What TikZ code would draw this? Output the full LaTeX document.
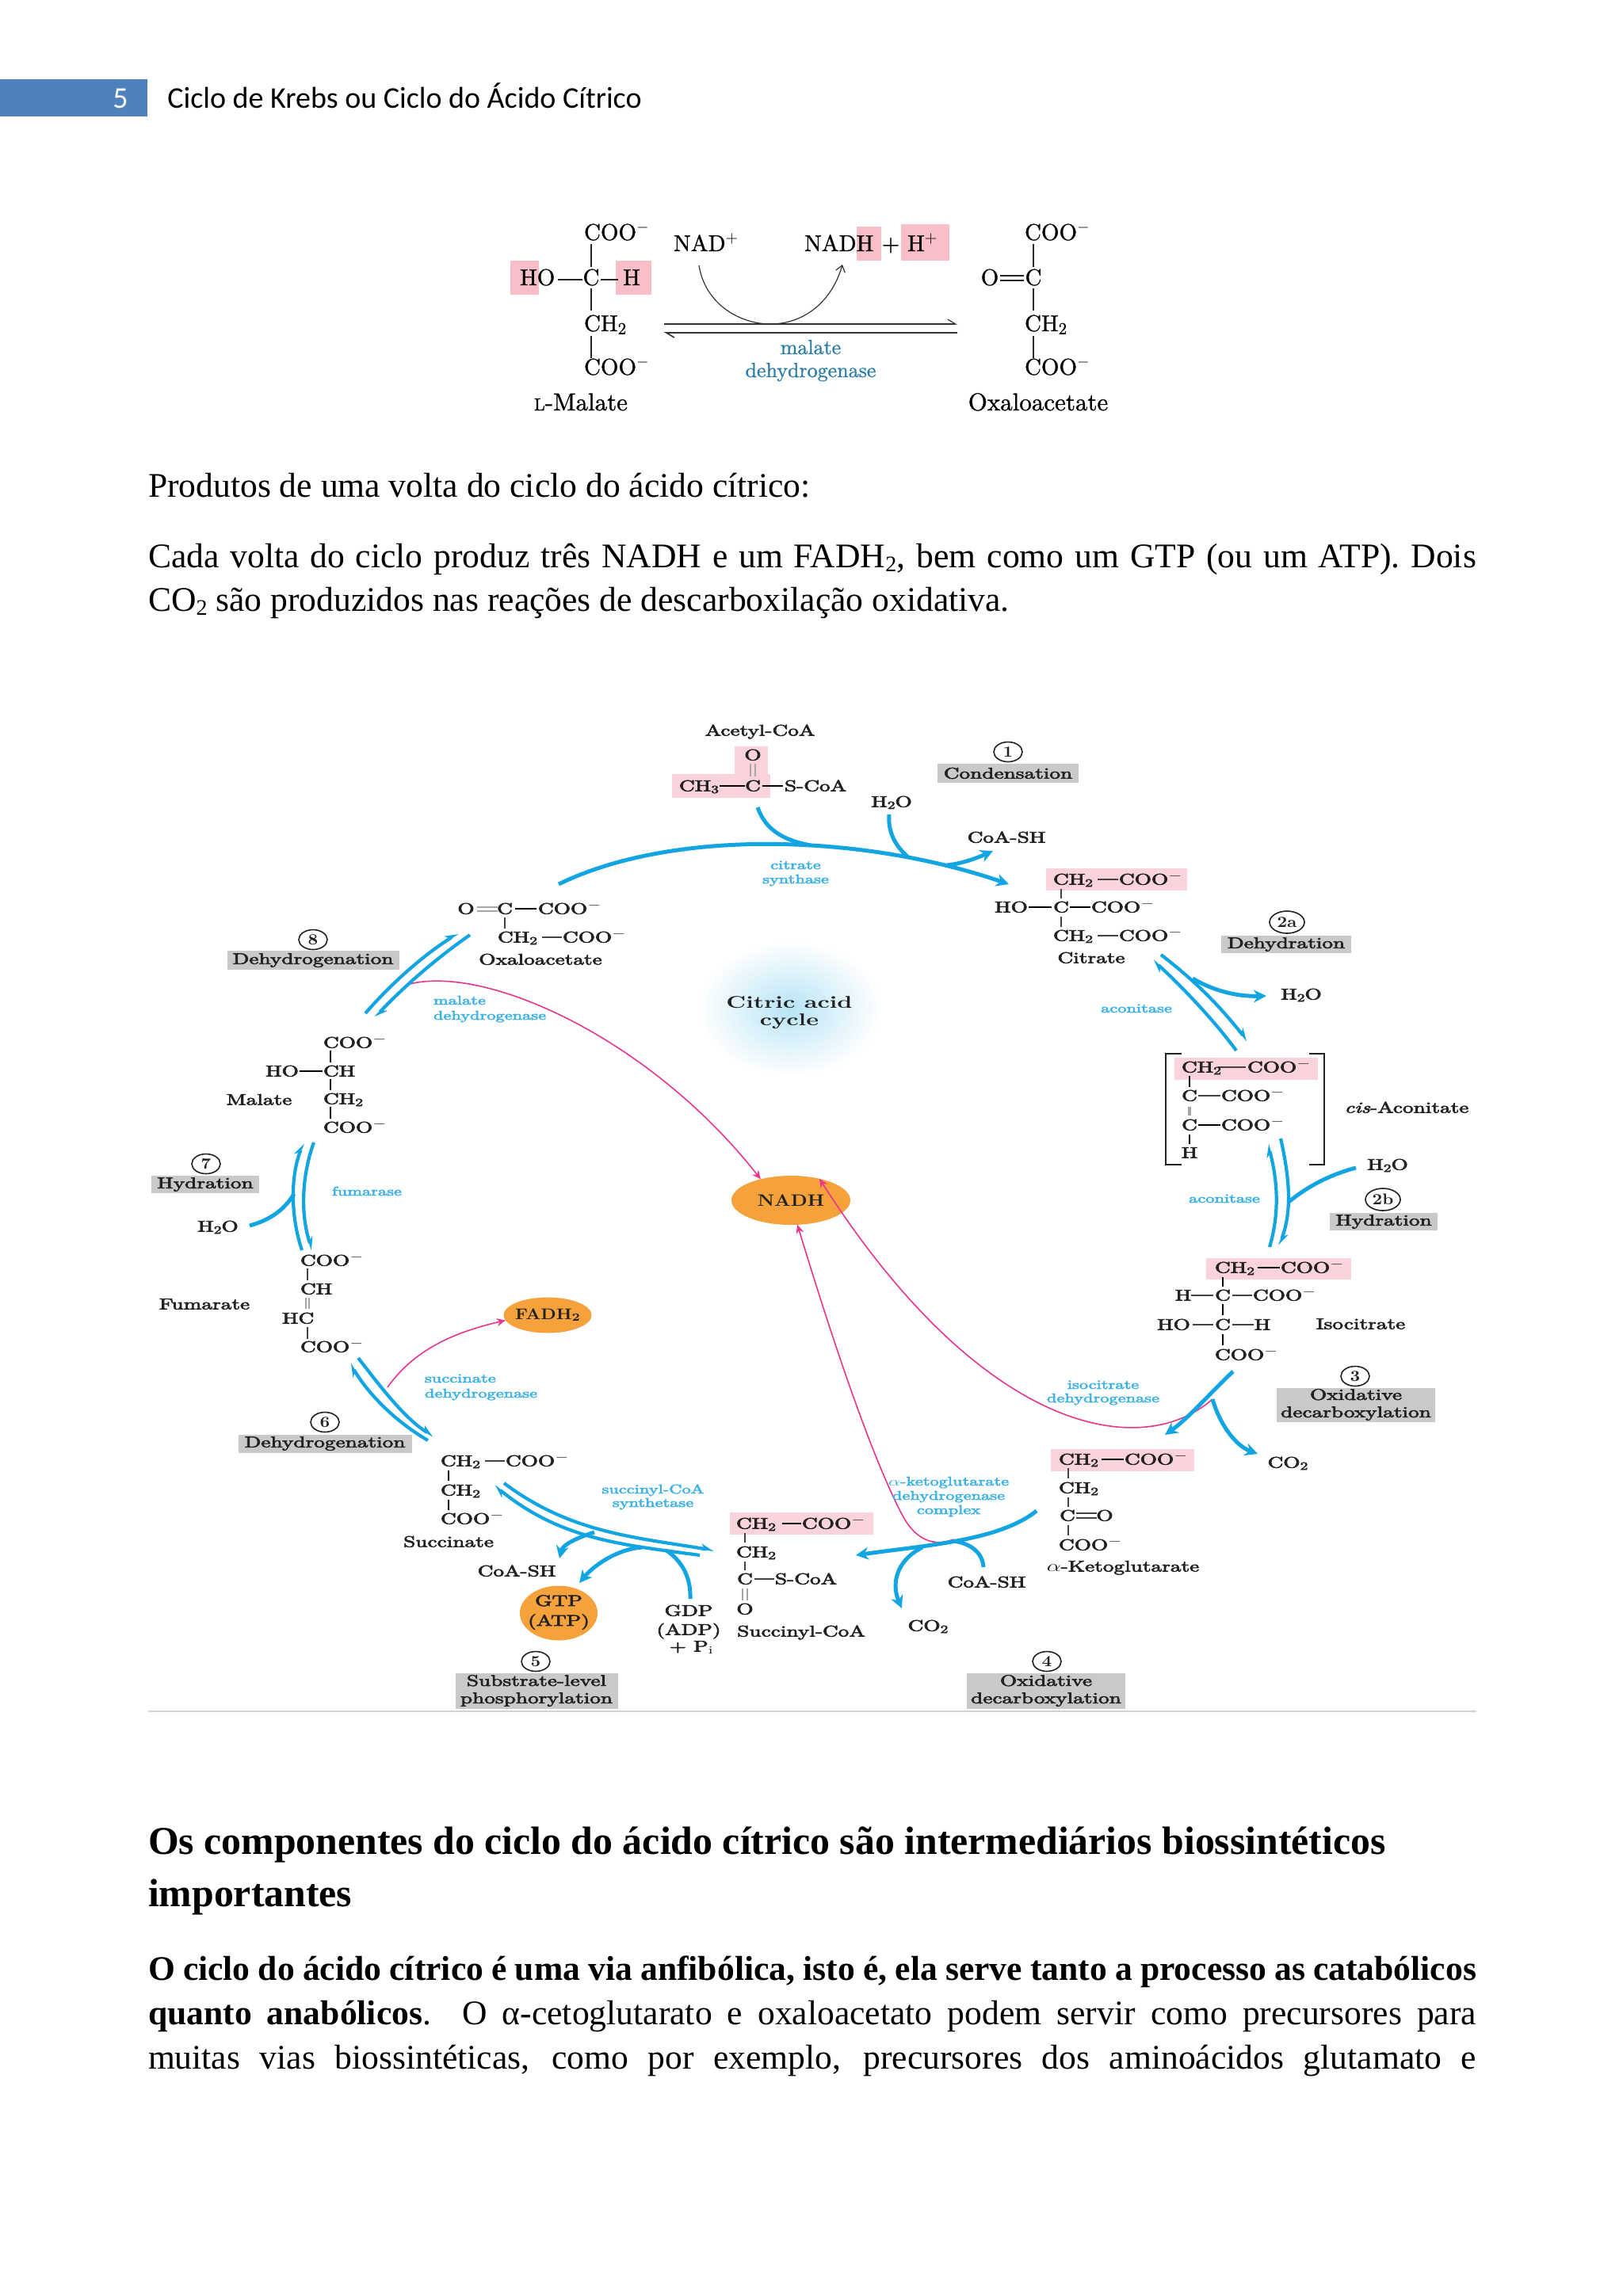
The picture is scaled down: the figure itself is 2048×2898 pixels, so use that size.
\documentclass[tikz,border=0pt]{standalone}
\usepackage{fontspec}
\usepackage{graphicx}
\usetikzlibrary{arrows.meta,shapes.geometric}
\newfontfamily\bodyfont{Liberation Serif}
\newfontfamily\headfont{Carlito}
\newfontfamily\chemfont{lmroman10-regular}[Extension=.otf,ItalicFont=lmroman10-italic,FakeBold=3]
\newfontfamily\topfont{lmroman10-regular}[Extension=.otf,FakeBold=1]
\definecolor{flow}{HTML}{12A5E2}
\definecolor{enz}{HTML}{3DB2E8}
\definecolor{topenz}{HTML}{2A7CA8}
\definecolor{pinkbg}{HTML}{FBD3DC}
\definecolor{pinktop}{HTML}{F9BFC8}
\definecolor{grayb}{HTML}{C8C9C9}
\definecolor{orangeb}{HTML}{F6A23C}
\definecolor{magent}{HTML}{E6378C}
\definecolor{ink}{HTML}{222222}
\definecolor{headblue}{HTML}{4F81BD}
\newcommand\St[1]{\scalebox{1.4}[1]{#1}}
\newcommand\Sb[1]{\scalebox{1.13}[1]{#1}}
\newcommand\two{\raisebox{-0.3ex}{\fontsize{7}{8}\selectfont 2}}
\newcommand\thr{\raisebox{-0.3ex}{\fontsize{7}{8}\selectfont 3}}
\newcommand\ttwo{\raisebox{-0.3ex}{\fontsize{10.5}{11}\selectfont 2}}
\newcommand\bsub{\raisebox{-0.25ex}{\fontsize{14}{14}\selectfont 2}}
\newcommand\cw[4]{\node[chem,anchor=base west] (#1) at ({#2},{#3+6.5}) {\St{#4}};}
\newcommand\cc[4]{\node[chem,anchor=base] (#1) at ({#2},{#3+6.5}) {\St{#4}};}
\newcommand\en[4]{\node[enzy,anchor=base] (#1) at ({#2},{#3+5}) {\St{#4}};}
\newcommand\enw[4]{\node[enzy,anchor=base west] (#1) at ({#2},{#3+5}) {\St{#4}};}
\newcommand\tw[4]{\node[topchem,anchor=base west] (#1) at ({#2},{#3+10}) {#4};}
\newcommand\tc[4]{\node[topchem,anchor=base] (#1) at ({#2},{#3+10}) {#4};}
\newcommand\lbl[6]{\node[labbox,minimum width=#4*0.5pt,minimum height=#5*0.5pt] (#1) at (#2,#3) {#6};}
\newcommand\num[6]{\node[stepring,minimum width=#4*0.5pt,minimum height=#5*0.5pt] (#1) at (#2,#3) {\Sb{#6}};}
\newcommand\bline[4]{\node[bodytxt,anchor=base west] (#1) at (#2,#3) {\makebox[838pt][s]{#4}};}
\newcommand\pb[4]{\fill[pinkbg] (#1,#2) rectangle (#3,#4);}
\newcommand\pt[4]{\fill[pinktop] (#1,#2) rectangle (#3,#4);}
\tikzset{
  chem/.style={inner sep=0pt,outer sep=0pt,text=ink,font=\chemfont\fontsize{9.75}{11}\selectfont},
  enzy/.style={inner sep=0pt,outer sep=0pt,text=enz,font=\chemfont\fontsize{8}{9}\selectfont},
  topchem/.style={inner sep=0pt,outer sep=0pt,text=black,font=\topfont\fontsize{14.5}{16}\selectfont},
  toplab/.style={inner sep=0pt,outer sep=0pt,text=black,anchor=base,font=\topfont\fontsize{15.5}{17}\selectfont},
  topen/.style={inner sep=0pt,outer sep=0pt,text=topenz,anchor=base,font=\topfont\fontsize{13}{15}\selectfont},
  labbox/.style={fill=grayb,inner sep=0pt,outer sep=0pt,text=ink,align=center,font=\chemfont\fontsize{9.75}{11}\selectfont},
  stepring/.style={ellipse,draw=ink,line width=0.8pt,fill=white,inner sep=0pt,outer sep=0pt,text=ink,font=\bfseries\fontsize{9.75}{11}\selectfont},
  oval/.style={ellipse,fill=orangeb,inner sep=0pt,outer sep=0pt},
  ovaltxt/.style={inner sep=0pt,outer sep=0pt,text=ink,anchor=base},
  bodytxt/.style={inner sep=0pt,outer sep=0pt,text=black,font=\bodyfont\fontsize{21.8}{26}\selectfont},
  headtxt/.style={inner sep=0pt,outer sep=0pt,text=black,anchor=base west,font=\bodyfont\bfseries\fontsize{24.9}{28}\selectfont},
  bond/.style={draw=ink!85,line width=0.7pt},
  tbond/.style={draw=black,line width=1.4pt},
  gbond/.style={draw=black!35,line width=0.7pt},
  topbond/.style={draw=black!85,line width=0.6pt},
  fw/.style={draw=flow,line width=2.5pt},
  fwa/.style={fw,-{Stealth[length=8pt,width=8pt]}},
  dbl/.style={draw=flow,line width=2.1pt,-{Stealth[harpoon,length=7pt,width=6pt]}},
  nd/.style={draw=magent,line width=0.8pt,-{Stealth[length=5.5pt,width=5pt]}},
}
\begin{document}
\begin{tikzpicture}[x=0.5pt,y=-0.5pt]
\useasboundingbox (0,0) rectangle (2048,2898);
\fill[white] (0,0) rectangle (2048,2898);

% header
\node[fill=headblue,minimum width=93pt,minimum height=23.5pt,inner sep=0pt,outer sep=0pt,anchor=north west] (headbar) at (0,100) {};
\node[inner sep=0pt,text=white,anchor=base,font=\headfont\fontsize{19}{22}\selectfont] (pagenum) at (152,136) {5};
\node[inner sep=0pt,text=black,anchor=base west,font=\headfont\fontsize{19}{22}\selectfont] (headtitle) at (211,136) {Ciclo de Krebs ou Ciclo do Ácido Cítrico};

% top reaction
\pt{644}{329}{680}{372}
\pt{777}{329}{822}{372}
\pt{1081}{286}{1112}{329}
\pt{1137}{283}{1198}{329}
\tw{tcoo1}{737}{293}{COO$^-$}
\tw{tho}{656}{350}{HO}
\tc{tc1}{746}{350}{C}
\tc{th1}{797}{350}{H}
\tw{tch1}{737}{408}{CH\ttwo}
\tw{tcoo2}{737}{463}{COO$^-$}
\node[toplab] (lmal) at (733,518) {{\fontsize{11}{12}\selectfont L}-Malate};
\tw{tnad}{850}{307}{NAD$^+$}
\tw{tnadh}{1015}{307}{NADH}
\tc{tplus}{1124}{307}{+}
\tw{thp}{1145}{307}{H$^+$}
\tw{tcoo3}{1293}{293}{COO$^-$}
\tc{to}{1249}{350}{O}
\tc{tc2}{1304}{350}{C}
\tw{tch2}{1293}{408}{CH\ttwo}
\tw{tcoo4}{1293}{463}{COO$^-$}
\node[toplab] (oxatop) at (1310,518) {Oxaloacetate};
\node[topen] (tmal) at (1023,447) {malate};
\node[topen] (tdeh) at (1023,476) {dehydrogenase};
\draw[topbond] (746,308) -- (746,337);
\draw[topbond] (746,364) -- (746,392);
\draw[topbond] (746,424) -- (746,452);
\draw[topbond] (704,353) -- (735,353);
\draw[topbond] (758,353) -- (780,353);
\draw[topbond] (1304,308) -- (1304,337);
\draw[topbond] (1304,364) -- (1304,392);
\draw[topbond] (1304,424) -- (1304,452);
\draw[topbond] (1262,348) -- (1292,348);
\draw[topbond] (1262,354) -- (1292,354);
\coordinate (rf1) at (838,409); \coordinate (rf2) at (1208,409);
\coordinate (rb1) at (1208,420); \coordinate (rb2) at (838,420);
\draw[draw=black!80,line width=0.6pt,-{Straight Barb[harpoon,length=5pt,width=6pt]}] (rf1) -- (rf2);
\draw[draw=black!80,line width=0.8pt,-{Straight Barb[harpoon,length=5pt,width=6pt]}] (rb1) -- (rb2);
\coordinate (rc1) at (882,335); \coordinate (rcm) at (972,409); \coordinate (rc2) at (1063,334);
\draw[draw=black!80,line width=0.6pt,-{Straight Barb[length=4pt,width=6pt]}] (rc1) .. controls (890,385) and (935,409) .. (rcm) .. controls (1015,409) and (1050,380) .. (rc2);

% body text
\node[bodytxt,anchor=base west] (p1) at (187,627) {Produtos de uma volta do ciclo do ácido cítrico:};
\bline{p2}{187}{716}{Cada volta do ciclo produz três NADH e um FADH\bsub, bem como um GTP (ou um ATP). Dois}
\node[bodytxt,anchor=base west] (p3) at (187,771) {CO\bsub{} são produzidos nas reações de descarboxilação oxidativa.};

% glow
\shade[inner color=flow!30,outer color=white] (997,1273) ellipse [x radius=115,y radius=85];

% pink panels
\pb{927}{942}{969}{977}
\pb{848}{977}{972}{1007}
\pb{1320}{1096}{1498}{1124}
\pb{1482}{1335}{1663}{1363}
\pb{1522}{1588}{1705}{1615}
\pb{1326}{1829}{1507}{1857}
\pb{921}{1909}{1102}{1937}

% ovals and pink arrows
\node[oval,minimum width=75pt,minimum height=31pt] (nadh) at (998,1515) {};
\node[ovaltxt,font=\bfseries\fontsize{10.5}{12}\selectfont] (nadht) at (998,1522) {\Sb{NADH}};
\node[oval,minimum width=55.5pt,minimum height=22.5pt] (fadh) at (691,1660) {};
\node[ovaltxt,font=\bfseries\fontsize{9.75}{11}\selectfont] (fadht) at (691,1665) {\Sb{FADH\two}};
\node[oval,minimum width=49pt,minimum height=34.5pt] (gtp) at (705,2036) {};
\node[ovaltxt,font=\chemfont\fontsize{9.75}{11}\selectfont] (gtpt) at (705,2027) {\St{GTP}};
\node[ovaltxt,font=\chemfont\fontsize{9.75}{11}\selectfont] (atpt) at (705,2052) {\St{(ATP)}};
\coordinate (m1) at (513,1243);
\coordinate (i1) at (1530,1766);
\coordinate (k1) at (1203,1943);
\coordinate (s1) at (489,1751);
\draw[nd] (m1) .. controls (610,1215) and (820,1310) .. (nadh.145);
\draw[nd] (i1) .. controls (1440,1845) and (1240,1810) .. (nadh.37);
\draw[nd] (k1) .. controls (1185,1950) and (1160,1950) .. (1140,1915) .. controls (1100,1840) and (1050,1690) .. (nadh.-75);
\draw[nd] (s1) .. controls (525,1700) and (580,1680) .. (fadh.187);

% flow arrows : condensation
\coordinate (oxa) at (705,1116); \coordinate (cit) at (1273,1116);
\coordinate (acj) at (1023,1067); \coordinate (acs) at (956,1019);
\coordinate (wa) at (1122,1028); \coordinate (wb) at (1146,1082);
\coordinate (csa) at (1195,1092); \coordinate (csb) at (1253,1074);
\draw[fwa] (oxa) .. controls (850,1045) and (1090,1053) .. (cit);
\draw[fw] (acs) .. controls (965,1045) and (985,1060) .. (acj);
\draw[fw] (wa) .. controls (1120,1050) and (1130,1068) .. (wb);
\draw[fwa] (csa) .. controls (1215,1090) and (1235,1082) .. (csb);
% aconitase 1
\coordinate (a1) at (1465,1205); \coordinate (a2) at (1574,1314);
\coordinate (a3) at (1560,1326); \coordinate (a4) at (1455,1212);
\coordinate (a5) at (1505,1235); \coordinate (a6) at (1598,1257);
\draw[dbl] (a1) .. controls (1497,1230) and (1530,1258) .. (a2);
\draw[dbl] (a3) .. controls (1530,1285) and (1486,1240) .. (a4);
\draw[fwa] (a5) .. controls (1530,1250) and (1560,1258) .. (a6);
% aconitase 2
\coordinate (b1) at (1602,1574); \coordinate (b2) at (1600,1444);
\coordinate (b3) at (1616,1437); \coordinate (b4) at (1614,1572);
\coordinate (b5) at (1711,1474); \coordinate (b6) at (1625,1518);
\draw[dbl] (b1) .. controls (1615,1530) and (1612,1490) .. (b2);
\draw[dbl] (b3) .. controls (1628,1490) and (1630,1530) .. (b4);
\draw[fw] (b5) .. controls (1680,1482) and (1650,1497) .. (b6);
% isocitrate
\coordinate (c1) at (1556,1731); \coordinate (c2) at (1470,1811);
\coordinate (c3) at (1530,1766); \coordinate (c4) at (1587,1835);
\draw[fwa] (c1) .. controls (1530,1755) and (1500,1790) .. (c2);
\draw[fwa] (c3) .. controls (1540,1800) and (1560,1825) .. (c4);
% ketoglutarate
\coordinate (d1) at (1308,1907); \coordinate (d2) at (1080,1963);
\coordinate (d3) at (1164,1953); \coordinate (d4) at (1138,2030);
\coordinate (d5) at (1241,1978); \coordinate (d6) at (1203,1945);
\draw[fwa] (d1) .. controls (1260,1945) and (1170,1950) .. (d2);
\draw[fwa] (d3) .. controls (1130,1970) and (1125,2000) .. (d4);
\draw[fw] (d5) .. controls (1240,1960) and (1225,1948) .. (d6);
% succinyl
\coordinate (e1) at (636,1872); \coordinate (e2) at (901,1957);
\coordinate (e3) at (883,1963); \coordinate (e4) at (624,1875);
\coordinate (e5) at (750,1934); \coordinate (e6) at (706,1967);
\coordinate (e7) at (810,1953); \coordinate (e8) at (731,1998);
\coordinate (e9) at (871,2018); \coordinate (e10) at (841,1957);
\draw[dbl] (e1) .. controls (720,1935) and (800,1940) .. (e2);
\draw[dbl] (e3) .. controls (790,1950) and (710,1945) .. (e4);
\draw[fwa] (e5) .. controls (725,1942) and (710,1950) .. (e6);
\draw[fwa] (e7) .. controls (780,1955) and (750,1975) .. (e8);
\draw[fw] (e9) .. controls (872,1990) and (860,1970) .. (e10);
% succinate-fumarate
\coordinate (f1) at (452,1714); \coordinate (f2) at (547,1813);
\coordinate (f3) at (540,1818); \coordinate (f4) at (442,1721);
\draw[dbl] (f1) .. controls (480,1750) and (510,1790) .. (f2);
\draw[dbl] (f3) .. controls (500,1795) and (465,1760) .. (f4);
% fumarate-malate
\coordinate (g1) at (381,1578); \coordinate (g2) at (383,1443);
\coordinate (g3) at (396,1442); \coordinate (g4) at (394,1578);
\coordinate (g5) at (315,1547); \coordinate (g6) at (371,1507);
\draw[dbl] (g1) .. controls (365,1530) and (368,1480) .. (g2);
\draw[dbl] (g3) .. controls (382,1480) and (378,1530) .. (g4);
\draw[fw] (g5) .. controls (340,1540) and (358,1528) .. (g6);
% malate-oxaloacetate
\coordinate (h1) at (461,1279); \coordinate (h2) at (578,1178);
\coordinate (h3) at (593,1180); \coordinate (h4) at (473,1284);
\draw[dbl] (h1) .. controls (495,1240) and (535,1205) .. (h2);
\draw[dbl] (h3) .. controls (550,1210) and (510,1245) .. (h4);

% bonds
\draw[gbond] (947,964) -- (947,980);
\draw[gbond] (953,964) -- (953,980);
\draw[tbond] (908,992) -- (940,992);
\draw[tbond] (962,992) -- (988,992);
\draw[gbond] (602,1145) -- (628,1145);
\draw[gbond] (602,1150) -- (628,1150);
\draw[tbond] (650,1147) -- (677,1147);
\draw[bond] (637,1158) -- (637,1172);
\draw[bond] (684,1183) -- (709,1183);
\draw[bond] (1339,1122) -- (1339,1134);
\draw[bond] (1339,1157) -- (1339,1170);
\draw[bond] (1385,1110) -- (1411,1110);
\draw[bond] (1385,1181) -- (1411,1181);
\draw[tbond] (1298,1145) -- (1327,1145);
\draw[tbond] (1350,1145) -- (1376,1145);
\draw[tbond] (1501,1358) -- (1501,1372);
\draw[gbond,line width=1.6pt] (1501,1397) -- (1501,1408);
\draw[tbond] (1501,1432) -- (1501,1444);
\draw[bond] (1537,1347) -- (1572,1347);
\draw[bond] (1512,1383) -- (1540,1383);
\draw[tbond] (1512,1420) -- (1540,1420);
\draw[tbond] (1543,1612) -- (1543,1624);
\draw[tbond] (1543,1646) -- (1543,1660);
\draw[tbond] (1543,1684) -- (1543,1698);
\draw[tbond] (1587,1600) -- (1615,1600);
\draw[bond] (1503,1635) -- (1531,1635);
\draw[bond] (1555,1635) -- (1580,1635);
\draw[bond] (1505,1672) -- (1531,1672);
\draw[bond] (1555,1672) -- (1582,1672);
\draw[bond] (1348,1853) -- (1348,1866);
\draw[bond] (1348,1890) -- (1348,1902);
\draw[bond] (1348,1925) -- (1348,1938);
\draw[tbond] (1390,1842) -- (1418,1842);
\draw[bond] (1358,1910) -- (1384,1910);
\draw[bond] (1358,1916) -- (1384,1916);
\draw[bond] (940,1935) -- (940,1947);
\draw[bond] (940,1971) -- (940,1982);
\draw[gbond] (937,2005) -- (937,2020);
\draw[gbond] (943,2005) -- (943,2020);
\draw[tbond] (987,1923) -- (1011,1923);
\draw[bond] (952,1993) -- (977,1993);
\draw[tbond] (566,1856) -- (566,1869);
\draw[tbond] (566,1893) -- (566,1906);
\draw[bond] (612,1844) -- (637,1844);
\draw[tbond] (417,1326) -- (417,1341);
\draw[tbond] (417,1362) -- (417,1376);
\draw[tbond] (417,1397) -- (417,1412);
\draw[tbond] (378,1352) -- (407,1352);
\draw[bond] (388,1601) -- (388,1616);
\draw[gbond] (386,1638) -- (386,1652);
\draw[gbond] (390,1638) -- (390,1652);
\draw[bond] (388,1675) -- (388,1690);
% brackets
\draw[draw=ink,line width=0.9pt] (1491,1330) -- (1471,1330) -- (1471,1470) -- (1491,1470);
\draw[draw=ink,line width=0.9pt] (1652,1330) -- (1671,1330) -- (1671,1470) -- (1652,1470);

% acetyl
\cc{aclab}{959}{922}{Acetyl-CoA}
\cc{aco}{950}{953}{O}
\cw{ach}{857}{992}{CH\thr}
\cc{acc}{950}{992}{C}
\cw{acs2}{990}{992}{S-CoA}
\cc{h2oa}{1125}{1012}{H\two O}
\cc{coa1}{1270}{1057}{CoA-SH}
\en{cs1}{1004}{1092}{citrate}
\en{cs2}{1004}{1110}{synthase}
\num{n1}{1272}{949}{36}{25}{1}
\lbl{l1}{1272}{976}{178}{24}{\St{Condensation}}
% oxaloacetate
\cc{oxo}{588}{1147}{O}
\cc{oxc}{637}{1147}{C}
\cw{oxcoo}{679}{1147}{COO$^-$}
\cw{oxch}{628}{1183}{CH\two}
\cw{oxcoo2}{710}{1183}{COO$^-$}
\cc{oxlab}{682}{1211}{Oxaloacetate}
% centre
\node[ovaltxt,font=\bfseries\fontsize{10.7}{13}\selectfont] (cac1) at (996,1272) {\St{Citric acid}};
\node[ovaltxt,font=\bfseries\fontsize{10.7}{13}\selectfont] (cac2) at (996,1294) {\St{cycle}};
% citrate
\cw{cich}{1329}{1110}{CH\two}
\cw{cicoo}{1412}{1110}{COO$^-$}
\cc{ciho}{1276}{1145}{HO}
\cc{cic}{1339}{1145}{C}
\cw{cicoo2}{1377}{1145}{COO$^-$}
\cw{cich2}{1329}{1181}{CH\two}
\cw{cicoo3}{1412}{1181}{COO$^-$}
\cc{cilab}{1377}{1209}{Citrate}
\en{ac1}{1434}{1273}{aconitase}
\num{n2a}{1624}{1164}{44}{28}{2a}
\lbl{l2a}{1623}{1192}{164}{22}{\St{Dehydration}}
\cc{h2ob}{1642}{1255}{H\two O}
% cis-aconitate
\cw{cach}{1491}{1347}{CH\two}
\cw{cacoo}{1574}{1347}{COO$^-$}
\cc{cac}{1501}{1383}{C}
\cw{cacoo2}{1541}{1383}{COO$^-$}
\cc{cacb}{1501}{1420}{C}
\cw{cacoo3}{1541}{1420}{COO$^-$}
\cc{cah}{1501}{1455}{H}
\cc{calab}{1775}{1398}{\textit{cis}-Aconitate}
\cc{h2oc}{1751}{1470}{H\two O}
\en{ac2}{1545}{1513}{aconitase}
\num{n2b}{1745}{1514}{44}{28}{2b}
\lbl{l2b}{1746}{1542}{136}{22}{\St{Hydration}}
% isocitrate
\cw{ich}{1533}{1600}{CH\two}
\cw{icoo}{1616}{1600}{COO$^-$}
\cc{ih}{1493}{1635}{H}
\cc{ic}{1543}{1635}{C}
\cw{icoo2}{1581}{1635}{COO$^-$}
\cc{iho}{1481}{1672}{HO}
\cc{icb}{1543}{1672}{C}
\cc{ih2}{1593}{1672}{H}
\cw{icoo3}{1533}{1710}{COO$^-$}
\cc{ilab}{1717}{1671}{Isocitrate}
\num{n3}{1710}{1737}{36}{25}{3}
\lbl{l3}{1711}{1773}{200}{43}{\St{Oxidative}\\\St{decarboxylation}}
\en{id1}{1392}{1748}{isocitrate}
\en{id2}{1392}{1765}{dehydrogenase}
\cc{co2a}{1625}{1846}{CO\two}
% ketoglutarate
\cw{kch}{1336}{1842}{CH\two}
\cw{kcoo}{1419}{1842}{COO$^-$}
\cw{kch2}{1336}{1878}{CH\two}
\cc{kc}{1347}{1913}{C}
\cc{ko}{1394}{1913}{O}
\cw{kcoo2}{1336}{1950}{COO$^-$}
\cc{klab}{1417}{1977}{$\alpha$-Ketoglutarate}
\en{kd1}{1197}{1870}{$\alpha$-ketoglutarate}
\en{kd2}{1197}{1888}{dehydrogenase}
\en{kd3}{1197}{1906}{complex}
\cc{coa2}{1245}{1997}{CoA-SH}
\cc{co2b}{1171}{2052}{CO\two}
\num{n4}{1321}{2097}{36}{25}{4}
\lbl{l4}{1320}{2134}{200}{45}{\St{Oxidative}\\\St{decarboxylation}}
% succinyl
\cw{sych}{929}{1923}{CH\two}
\cw{sycoo}{1012}{1923}{COO$^-$}
\cw{sych2}{929}{1959}{CH\two}
\cc{syc}{940}{1993}{C}
\cw{sys}{978}{1993}{S-CoA}
\cc{syo}{940}{2031}{O}
\cc{sylab}{1011}{2059}{Succinyl-CoA}
\en{st1}{824}{1880}{succinyl-CoA}
\en{st2}{824}{1897}{synthetase}
\cc{gdp1}{869}{2033}{GDP}
\cc{gdp2}{869}{2057}{(ADP)}
\cc{gdp3}{873}{2078}{+ P$_{\mathrm{i}}$}
\cc{coa3}{652}{1983}{CoA-SH}
\num{n5}{676}{2097}{36}{25}{5}
\lbl{l5}{677}{2134}{205}{45}{\St{Substrate-level}\\\St{phosphorylation}}
% succinate
\cw{such}{556}{1844}{CH\two}
\cw{sucoo}{638}{1844}{COO$^-$}
\cw{such2}{556}{1881}{CH\two}
\cw{sucoo2}{556}{1917}{COO$^-$}
\cc{sulab}{566}{1946}{Succinate}
\num{n6}{410}{1795}{36}{25}{6}
\lbl{l6}{410}{1822}{219}{23}{\St{Dehydrogenation}}
\enw{sd1}{536}{1740}{succinate}
\enw{sd2}{536}{1759}{dehydrogenase}
% fumarate
\cw{fcoo}{379}{1591}{COO$^-$}
\cw{fch}{379}{1627}{CH}
\cw{fhc}{356}{1664}{HC}
\cw{fcoo2}{379}{1700}{COO$^-$}
\cc{flab}{258}{1646}{Fumarate}
\en{fu}{463}{1504}{fumarase}
\cc{h2od}{275}{1548}{H\two O}
\num{n7}{260}{1469}{36}{25}{7}
\lbl{l7}{259}{1495}{136}{22}{\St{Hydration}}
% malate
\cw{mcoo}{408}{1316}{COO$^-$}
\cc{mho}{356}{1352}{HO}
\cw{mch}{408}{1352}{CH}
\cw{mch2}{408}{1387}{CH\two}
\cw{mcoo2}{408}{1423}{COO$^-$}
\cc{mlab}{327}{1388}{Malate}
\num{n8}{395}{1186}{36}{25}{8}
\lbl{l8}{395}{1212}{217}{24}{\St{Dehydrogenation}}
\enw{md1}{547}{1263}{malate}
\enw{md2}{547}{1282}{dehydrogenase}

% rule
\coordinate (rl) at (187,2160); \coordinate (rr) at (1863,2160);
\draw[draw=black!18,line width=1pt] (rl) -- (rr);

% closing text
\node[headtxt] (h1) at (187,2340) {Os componentes do ciclo do ácido cítrico são intermediários biossintéticos};
\node[headtxt] (h2) at (187,2406) {importantes};
\bline{b1l}{187}{2499}{\bfseries O ciclo do ácido cítrico é uma via anfibólica, isto é, ela serve tanto a processo as catabólicos}
\bline{b2l}{187}{2555}{\textbf{quanto anabólicos}. O α-cetoglutarato e oxaloacetato podem servir como precursores para}
\bline{b3l}{187}{2611}{muitas vias biossintéticas, como por exemplo, precursores dos aminoácidos glutamato e}
\end{tikzpicture}
\end{document}
